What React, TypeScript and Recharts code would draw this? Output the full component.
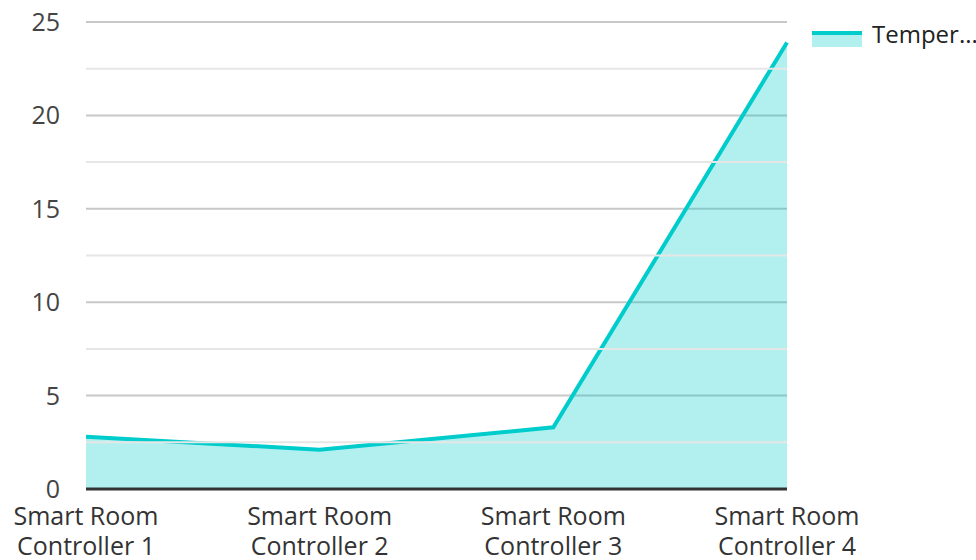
import React from "react";
import { AreaChart, Area, XAxis, YAxis, CartesianGrid, ReferenceLine } from "recharts";

const categories = ["Smart Room Controller 1", "Smart Room Controller 2", "Smart Room Controller 3", "Smart Room Controller 4"];
const temperature = [2.8, 2.1, 3.3, 23.9];
const yTicks = [0, 5, 10, 15, 20, 25];
const minorTicks = [2.5, 7.5, 12.5, 17.5, 22.5];
const seriesName = "Temperature";
const legendLabel = "Temper...";

const data = categories.map((c, i) => ({ name: c, Temperature: temperature[i] }));

const COLOR = "#00CCCC";
const FONT = "'Open Sans', 'Noto Sans', sans-serif";

const XTick = (props: any) => {
  const { x, y, payload } = props;
  const words = String(payload.value).split(" ");
  const line1 = words.slice(0, 2).join(" ");
  const line2 = words.slice(2).join(" ");
  return (
    <text x={x} y={y} textAnchor="middle" fill="#333" fontSize={25} fontFamily={FONT}>
      <tspan x={x} dy={28}>{line1}</tspan>
      <tspan x={x} dy={30}>{line2}</tspan>
    </text>
  );
};

const YTick = (props: any) => {
  const { x, y, payload } = props;
  return (
    <text x={x} y={y} dy={9} textAnchor="end" fill="#444" fontSize={25} fontFamily={FONT}>
      {payload.value}
    </text>
  );
};

const LegendBox = () => (
  <div style={{ position: "absolute", left: 812, top: 21, display: "flex", alignItems: "flex-start", fontFamily: FONT, fontSize: 24, color: "#222" }}>
    <svg width={50} height={16} style={{ marginRight: 10, marginTop: 10 }}>
      <rect x={0} y={0} width={50} height={16} fill={COLOR} fillOpacity={0.3} />
      <line x1={0} y1={2} x2={50} y2={2} stroke={COLOR} strokeWidth={4} />
    </svg>
    <span style={{ lineHeight: "26px" }}>{legendLabel}</span>
  </div>
);

export default function App() {
  return (
    <div style={{ position: "absolute", left: 0, top: 0, width: 976, height: 560, background: "#fff" }}>
      <AreaChart width={976} height={560} data={data} margin={{ top: 22, right: 189, bottom: 0, left: 0 }}>
        {minorTicks.map((v) => (
          <ReferenceLine key={v} y={v} stroke="#e6e6e6" strokeWidth={2} />
        ))}
        <CartesianGrid vertical={false} stroke="#c8c8c8" strokeWidth={2} />
        <XAxis
          dataKey="name"
          axisLine={{ stroke: "#333", strokeWidth: 3 }}
          tickLine={false}
          tick={<XTick />}
          height={71}
          interval={0}
          padding={{ left: 0, right: 0 }}
        />
        <YAxis
          domain={[0, 25]}
          ticks={yTicks}
          axisLine={false}
          tickLine={false}
          tickSize={0}
          tickMargin={26}
          width={86}
          tick={<YTick />}
        />
        <Area
          type="linear"
          dataKey="Temperature"
          name={seriesName}
          stroke={COLOR}
          strokeWidth={4}
          fill={COLOR}
          fillOpacity={0.3}
          isAnimationActive={false}
          dot={false}
          activeDot={false}
        />
      </AreaChart>
      <LegendBox />
    </div>
  );
}
